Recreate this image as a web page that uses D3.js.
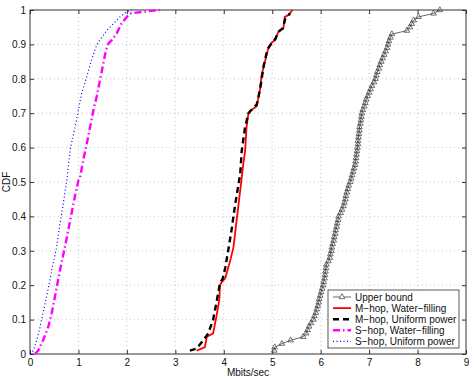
<!DOCTYPE html>
<html>
<head>
<meta charset="utf-8">
<script src="https://cdn.jsdelivr.net/npm/d3@7"></script>
<style>
html, body { margin: 0; padding: 0; background: #fff; }
svg { display: block; font-family: "Liberation Sans", Arial, Helvetica, sans-serif; }
</style>
</head>
<body>
<svg id="chart" width="474" height="380"></svg>
<script>
// tick values
const xTicks = [0, 1, 2, 3, 4, 5, 6, 7, 8, 9];
const yTicks = [0, 0.1, 0.2, 0.3, 0.4, 0.5, 0.6, 0.7, 0.8, 0.9, 1];
const yTickLabels = ['0', '0.1', '0.2', '0.3', '0.4', '0.5', '0.6', '0.7', '0.8', '0.9', '1'];

// [Mbits/sec, CDF]
const upperBound = [
  [5.04,0.01],[5.05,0.02],[5.20,0.03],[5.38,0.04],[5.64,0.05],[5.70,0.06],[5.73,0.07],[5.76,0.08],[5.80,0.09],[5.85,0.10],
  [5.87,0.11],[5.90,0.12],[5.92,0.13],[5.94,0.14],[5.96,0.15],[5.97,0.16],[5.99,0.17],[6.01,0.18],[6.03,0.19],[6.05,0.20],
  [6.06,0.21],[6.08,0.22],[6.09,0.23],[6.10,0.24],[6.11,0.25],[6.12,0.26],[6.16,0.27],[6.19,0.28],[6.20,0.29],[6.22,0.30],
  [6.23,0.31],[6.25,0.32],[6.27,0.33],[6.28,0.34],[6.30,0.35],[6.31,0.36],[6.33,0.37],[6.34,0.38],[6.36,0.39],[6.37,0.40],
  [6.41,0.41],[6.44,0.42],[6.47,0.43],[6.49,0.44],[6.51,0.45],[6.52,0.46],[6.54,0.47],[6.56,0.48],[6.58,0.49],[6.61,0.50],
  [6.63,0.51],[6.65,0.52],[6.67,0.53],[6.69,0.54],[6.71,0.55],[6.72,0.56],[6.73,0.57],[6.74,0.58],[6.75,0.59],[6.76,0.60],
  [6.77,0.61],[6.77,0.62],[6.78,0.63],[6.79,0.64],[6.80,0.65],[6.80,0.66],[6.82,0.67],[6.83,0.68],[6.84,0.69],[6.85,0.70],
  [6.87,0.71],[6.90,0.72],[6.92,0.73],[6.94,0.74],[6.97,0.75],[7.00,0.76],[7.03,0.77],[7.06,0.78],[7.10,0.79],[7.13,0.80],
  [7.15,0.81],[7.17,0.82],[7.20,0.83],[7.22,0.84],[7.25,0.85],[7.28,0.86],[7.31,0.87],[7.34,0.88],[7.37,0.89],[7.39,0.90],
  [7.41,0.91],[7.44,0.92],[7.47,0.93],[7.78,0.94],[7.84,0.95],[7.88,0.96],[7.92,0.97],[8.02,0.98],[8.33,0.99],[8.46,1.00]
];
const mhopWater = [
  [3.44,0.01],[3.61,0.02],[3.65,0.05],[3.78,0.06],[3.85,0.11],[3.91,0.16],[3.92,0.20],[3.96,0.21],[4.03,0.22],[4.09,0.25],
  [4.13,0.27],[4.20,0.31],[4.25,0.37],[4.30,0.43],[4.36,0.50],[4.40,0.55],[4.44,0.59],[4.47,0.66],[4.51,0.70],[4.58,0.71],
  [4.68,0.72],[4.75,0.77],[4.78,0.81],[4.85,0.85],[4.92,0.89],[4.99,0.905],[5.06,0.913],[5.13,0.937],[5.23,0.947],[5.26,0.98],
  [5.33,0.985],[5.42,1.0]
];
const mhopUniform = [
  [3.30,0.01],[3.44,0.016],[3.58,0.04],[3.68,0.06],[3.78,0.10],[3.85,0.15],[3.92,0.205],[3.98,0.22],[4.03,0.25],[4.09,0.30],
  [4.16,0.36],[4.23,0.43],[4.30,0.49],[4.34,0.525],[4.37,0.59],[4.44,0.66],[4.51,0.70],[4.60,0.715],[4.68,0.725],[4.75,0.77],
  [4.82,0.835],[4.90,0.885],[4.97,0.90],[5.06,0.915],[5.13,0.937],[5.22,0.947],[5.27,0.975],[5.37,0.99]
];
const shopWater = [
  [0.10,0.0],[0.17,0.01],[0.27,0.04],[0.38,0.08],[0.45,0.12],[0.52,0.17],[0.58,0.215],[0.65,0.265],[0.72,0.31],[0.79,0.36],
  [0.86,0.41],[0.93,0.46],[1.00,0.505],[1.03,0.51],[1.10,0.565],[1.17,0.61],[1.24,0.66],[1.31,0.71],[1.38,0.75],[1.45,0.80],
  [1.50,0.835],[1.57,0.885],[1.62,0.903],[1.69,0.913],[1.79,0.932],[1.89,0.961],[2.00,0.98],[2.06,0.99],[2.34,0.995],[2.68,1.0]
];
const shopUniform = [
  [0.00,0.0],[0.07,0.01],[0.14,0.04],[0.21,0.08],[0.27,0.12],[0.34,0.165],[0.41,0.215],[0.48,0.265],[0.55,0.31],[0.62,0.38],
  [0.69,0.44],[0.76,0.505],[0.83,0.595],[0.93,0.66],[1.00,0.71],[1.07,0.76],[1.17,0.805],[1.27,0.855],[1.38,0.90],[1.48,0.92],
  [1.58,0.94],[1.72,0.96],[1.86,0.98],[2.00,0.995],[2.10,1.0]
];
const legendLabels = ['Upper bound', 'M\u2212hop, Water\u2212filling', 'M\u2212hop, Uniform power', 'S\u2212hop, Water\u2212filling', 'S\u2212hop, Uniform power'];

(function() {
    const svg = d3.select('#chart');
    const x = d3.scaleLinear().domain([0, 9]).range([30, 466]);
    const y = d3.scaleLinear().domain([0, 1]).range([354, 10]);
    const axisColor = '#333';

    // grid (dotted)
    const grid = svg.append('g');
    grid.selectAll('line.gx').data(xTicks.slice(1, -1)).join('line')
        .attr('x1', d => x(d)).attr('x2', d => x(d)).attr('y1', y(0)).attr('y2', y(1))
        .attr('stroke', '#b8b8b8').attr('stroke-width', 0.8).attr('stroke-dasharray', '1,3');
    grid.selectAll('line.gy').data(yTicks.slice(1, -1)).join('line')
        .attr('x1', x(0)).attr('x2', x(9)).attr('y1', d => y(d)).attr('y2', d => y(d))
        .attr('stroke', '#b8b8b8').attr('stroke-width', 0.8).attr('stroke-dasharray', '1,3');

    // axes, ticks pointing inward
    const styleAxis = g => {
        g.select('.domain').remove();
        g.selectAll('line').attr('stroke', axisColor);
        g.selectAll('text').attr('fill', '#111').style('font-size', '10px').style('font-family', '"Liberation Sans", Arial, sans-serif');
    };
    svg.append('g').attr('transform', `translate(0,${y(0)})`)
        .call(d3.axisBottom(x).tickValues(xTicks).tickSize(-4).tickPadding(5).tickFormat(d3.format('d')))
        .call(styleAxis);
    svg.append('g').attr('transform', `translate(${x(0)},0)`)
        .call(d3.axisLeft(y).tickValues(yTicks).tickSize(-4).tickPadding(4).tickFormat((d, i) => yTickLabels[i]))
        .call(styleAxis);
    svg.append('g').attr('transform', `translate(0,${y(1)})`)
        .call(d3.axisTop(x).tickValues(xTicks).tickSize(-4).tickFormat(''))
        .call(styleAxis);
    svg.append('g').attr('transform', `translate(${x(9)},0)`)
        .call(d3.axisRight(y).tickValues(yTicks).tickSize(-4).tickFormat(''))
        .call(styleAxis);

    svg.append('rect')
        .attr('x', x(0)).attr('y', y(1)).attr('width', x(9) - x(0)).attr('height', y(0) - y(1))
        .attr('fill', 'none').attr('stroke', axisColor).attr('stroke-width', 1);

    // series
    const line = d3.line().x(d => x(d[0])).y(d => y(d[1]));
    const series = [
        { data: upperBound, color: '#444', width: 0.8, dash: null, marker: true },
        { data: mhopWater, color: '#ff0000', width: 1.8, dash: null },
        { data: mhopUniform, color: '#000', width: 2.4, dash: '6,4' },
        { data: shopWater, color: '#ff00ff', width: 2.4, dash: '7,3,1.5,3' },
        { data: shopUniform, color: '#0000ff', width: 1.2, dash: '1,2.5' }
    ];
    const tri = d3.symbol().type(d3.symbolTriangle).size(14);

    series.forEach(s => {
        svg.append('path').datum(s.data)
            .attr('d', line)
            .attr('fill', 'none')
            .attr('stroke', s.color)
            .attr('stroke-width', s.width)
            .attr('stroke-dasharray', s.dash);
        if (s.marker) {
            svg.append('g').selectAll('path').data(s.data).join('path')
                .attr('d', tri)
                .attr('transform', d => `translate(${x(d[0])},${y(d[1])})`)
                .attr('fill', 'none').attr('stroke', '#444').attr('stroke-width', 0.75);
        }
    });

    // axis labels
    svg.append('text')
        .attr('x', (x(0) + x(9)) / 2).attr('y', 376)
        .attr('text-anchor', 'middle').style('font-size', '10px').attr('fill', '#111')
        .text('Mbits/sec');
    svg.append('text')
        .attr('transform', `translate(10,${(y(0) + y(1)) / 2})rotate(-90)`)
        .attr('text-anchor', 'middle').style('font-size', '10px').attr('fill', '#111')
        .text('CDF');

    // legend
    const lg = svg.append('g').attr('transform', 'translate(328,290)');
    lg.append('rect').attr('width', 131).attr('height', 58)
        .attr('fill', '#fff').attr('stroke', axisColor).attr('stroke-width', 0.8);
    series.forEach((s, i) => {
        const row = lg.append('g').attr('transform', `translate(0,${7 + i * 11.1})`);
        row.append('line').attr('x1', 5).attr('x2', 23).attr('y1', 0).attr('y2', 0)
            .attr('stroke', s.color).attr('stroke-width', s.width)
            .attr('stroke-dasharray', s.dash);
        if (s.marker) {
            row.append('path').attr('d', tri).attr('transform', 'translate(14,0)')
                .attr('fill', '#fff').attr('stroke', '#444').attr('stroke-width', 0.75);
        }
        row.append('text').attr('x', 27).attr('y', 0).attr('dy', '0.35em')
            .style('font-size', '10px').attr('fill', '#111')
            .text(legendLabels[i]);
    });
})();
</script>
</body>
</html>
